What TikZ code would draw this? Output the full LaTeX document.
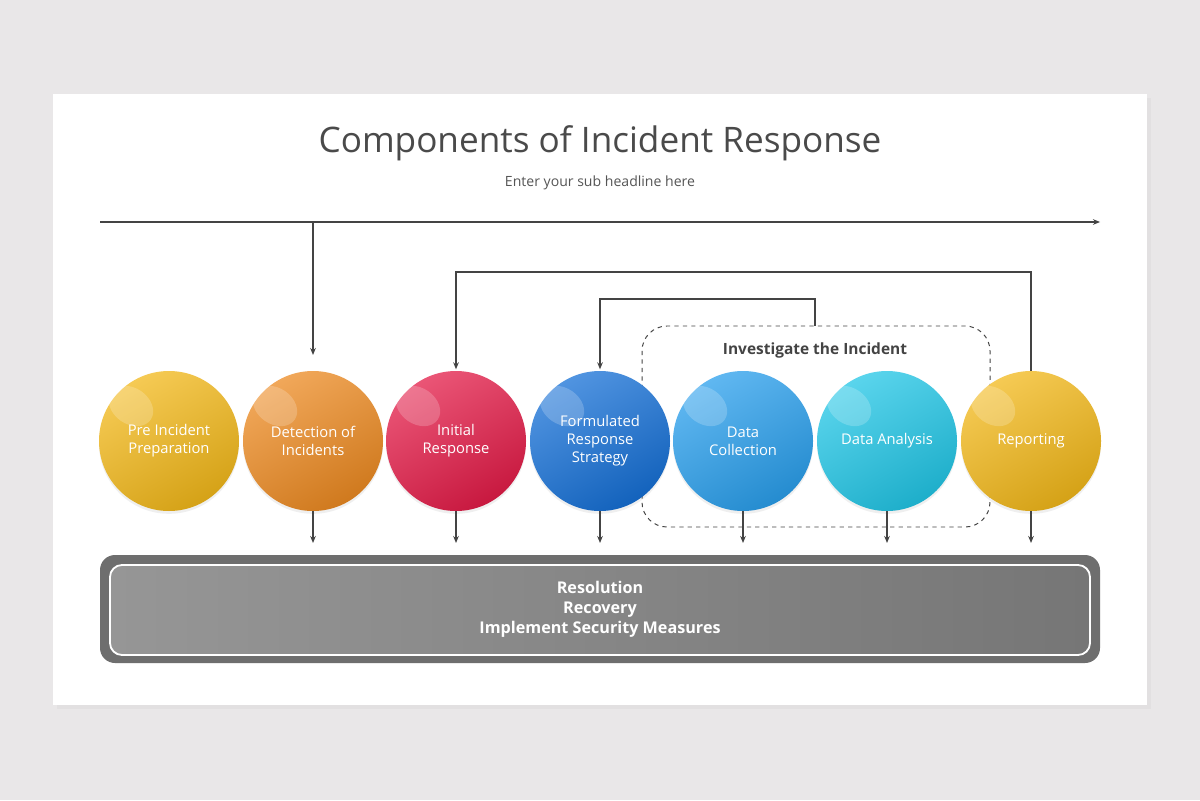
\documentclass[tikz,border=0pt]{standalone}
\usepackage{fontspec}
\setmainfont{Open Sans}
\usetikzlibrary{arrows.meta,shadows}
\definecolor{bg}{HTML}{E9E7E8}
\definecolor{ln}{HTML}{444444}
\definecolor{cY}{HTML}{F2B81A}
\definecolor{cO}{HTML}{EC8A22}
\definecolor{cR}{HTML}{E31C48}
\definecolor{cB}{HTML}{1670D6}
\definecolor{cL}{HTML}{2A9FEC}
\definecolor{cC}{HTML}{22C6E6}
\tikzset{
  conn/.style={draw=ln,line width=0.9pt},
  arr/.style={conn,-{Stealth[length=5pt,width=4pt]}},
  ball/.style={circle,minimum size=140*0.025cm,inner sep=0pt,
    top color=#1!75!white,bottom color=#1!88!black,shading angle=30,
    drop shadow={opacity=0.12,shadow xshift=0pt,shadow yshift=-2pt}},
}
\begin{document}
\begin{tikzpicture}[x=0.025cm,y=-0.025cm]
\fill[bg] (0,0) rectangle (1200,800);
\fill[white,drop shadow={opacity=0.06}] (53,94) rectangle (1147,705);
\node (title) at (600,143) {\fontsize{25}{30}\selectfont\color[HTML]{4A4A4A}Components of Incident Response};
\node (sub) at (600,183) {\fontsize{10}{12}\selectfont\color[HTML]{555555}Enter your sub headline here};
\coordinate (aL) at (100,222); \coordinate (aR) at (1100,222);
\draw[arr] (aL) -- (aR);
\draw[draw=ln,dashed,line width=0.7pt,rounded corners=25*0.025cm] (642,326) rectangle (990,527);
\node[font=\bfseries\fontsize{11}{13}\selectfont,text=ln] (inv) at (815,350) {Investigate the Incident};
\foreach \n/\x/\c/\t in {p1/169/cY/{Pre Incident\\Preparation},p2/313/cO/{Detection of\\Incidents},p3/456/cR/{Initial\\Response},p4/600/cB/{Formulated\\Response\\Strategy},p5/743/cL/{Data\\Collection},p6/887/cC/{Data Analysis},p7/1031/cY/{Reporting}}{
  \node[ball=\c] (\n) at (\x,441) {};
  \fill[white,opacity=0.2] (\x-38,441-35) ellipse [x radius=24*0.025cm,y radius=18*0.025cm,rotate=-35];
  \node[align=center,text=white,font=\fontsize{10.5}{12.8}\selectfont] at (\x,441) {\t};
  \coordinate (\n b) at (\x,543);
}
\coordinate (d2) at (313,222); \coordinate (d2e) at (313,355);
\draw[arr] (d2) -- (d2e);
\draw[arr] (p7.north) |- (456,272) -- ([yshift=1pt]p3.north);
\coordinate (ib) at (815,326);
\draw[arr] (ib) |- (600,299) -- ([yshift=1pt]p4.north);
\fill[fill={rgb,255:red,110;green,110;blue,110},rounded corners=15*0.025cm] (100,555) rectangle (1100,663);
\shade[left color={rgb,255:red,150;green,150;blue,150},right color={rgb,255:red,118;green,118;blue,118},rounded corners=12*0.025cm] (110,565) rectangle (1090,655);
\draw[white,line width=1.3pt,rounded corners=12*0.025cm] (110,565) rectangle (1090,655);
\node[align=center,text=white,font=\bfseries\fontsize{11.5}{14.2}\selectfont] (bar) at (600,609) {Resolution\\Recovery\\Implement Security Measures};
\foreach \n in {p2,p3,p4,p5,p6,p7}{
  \draw[arr] (\n.south) -- (\n b);
}
\end{tikzpicture}
\end{document}
